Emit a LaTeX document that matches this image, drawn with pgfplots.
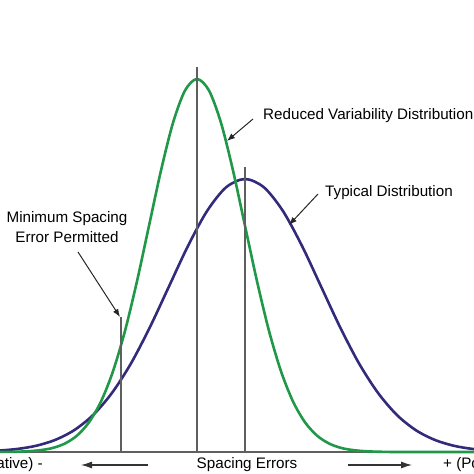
\documentclass[border=0pt]{standalone}
\usepackage{fontspec}
\setmainfont{Liberation Sans}
\usepackage{pgfplots}
\pgfplotsset{compat=1.18}
\usetikzlibrary{arrows.meta}

\definecolor{reducedgreen}{RGB}{32,152,72}
\definecolor{typicalpurple}{RGB}{50,42,122}
\definecolor{guidegray}{RGB}{95,95,95}

\begin{document}
\begin{tikzpicture}
\useasboundingbox (0,0) rectangle (474pt,474pt);
\clip (0,0) rectangle (474pt,474pt);
\begin{axis}[
  scale only axis,
  width=474pt, height=474pt,
  xmin=0, xmax=474, ymin=-22, ymax=452,
  hide axis, clip=false,
  every axis plot/.append style={no markers},
]
% spacing-error axis
\addplot[guidegray, line width=1.3pt] coordinates {(-40,0) (520,0)};

% typical distribution
\addplot[typicalpurple, line width=2.6pt, smooth] coordinates {
  (-21,0.6) (-2,1.4) (17,3.0) (36,6.2) (55,12.0) (74,21.7) (93,36.9)
  (112,59.1) (131,88.6) (150,125.0) (169,165.6) (188,206.1) (207,240.9)
  (226,264.6) (245,273) (264,264.6) (283,240.9) (302,206.1) (321,165.6)
  (340,125.0) (359,88.6) (378,59.1) (397,36.9) (416,21.7) (435,12.0)
  (454,6.2) (473,3.0) (492,1.4) (511,0.6)};

% reduced variability distribution
\addplot[reducedgreen, line width=2.6pt, smooth] coordinates {
  (-20,0) (5,0.1) (17,0.3) (29,0.8) (41,1.9) (53,4.1) (65,8.5) (77,16.4)
  (89,29.7) (101,50.5) (113,80.7) (125,121.1) (137,170.8) (149,226.2)
  (161,281.5) (173,329.2) (185,361.5) (197,373) (209,361.5) (221,329.2)
  (233,281.5) (245,226.2) (257,170.8) (269,121.1) (281,80.7) (293,50.5)
  (305,29.7) (317,16.4) (329,8.5) (341,4.1) (353,1.9) (365,0.8) (377,0.3)
  (389,0.1) (401,0) (520,0)};

% means and minimum permitted error
\addplot[guidegray, line width=1.2pt] coordinates {(197,0) (197,385)};
\addplot[guidegray, line width=1.2pt] coordinates {(245,0) (245,285)};
\addplot[guidegray, line width=1.2pt] coordinates {(121,0) (121,135)};

% annotations
\node[anchor=west, font=\fontsize{15.2}{18}\selectfont, inner sep=0pt] at (axis cs:263,336) {Reduced Variability Distribution};
\draw[black!85, line width=1pt, -{Latex[length=8pt,width=6pt]}] (axis cs:253,333) -- (axis cs:227,311);

\node[anchor=west, font=\fontsize{15.2}{18}\selectfont, inner sep=0pt] at (axis cs:325,259) {Typical Distribution};
\draw[black!85, line width=1pt, -{Latex[length=8pt,width=6pt]}] (axis cs:318,258) -- (axis cs:289,227);

\node[align=center, font=\fontsize{15.2}{20}\selectfont, inner sep=0pt] at (axis cs:67,225) {Minimum Spacing\\Error Permitted};
\draw[black!85, line width=1pt, -{Latex[length=8pt,width=6pt]}] (axis cs:78,200) -- (axis cs:120,135);

\node[font=\fontsize{15.2}{18}\selectfont, inner sep=0pt] at (axis cs:247,-13) {Spacing Errors};
\node[anchor=east, font=\fontsize{15.2}{18}\selectfont, inner sep=0pt] at (axis cs:43,-13) {(Negative) -};
\node[anchor=west, font=\fontsize{15.2}{18}\selectfont, inner sep=0pt] at (axis cs:443,-13) {+ (Positive)};
\draw[black!80, line width=1.1pt, -{Latex[length=11pt,width=7pt]}] (axis cs:148,-13) -- (axis cs:81,-13);
\draw[black!80, line width=1.1pt, -{Latex[length=11pt,width=7pt]}] (axis cs:348,-13) -- (axis cs:412,-13);
\end{axis}
\end{tikzpicture}
\end{document}
